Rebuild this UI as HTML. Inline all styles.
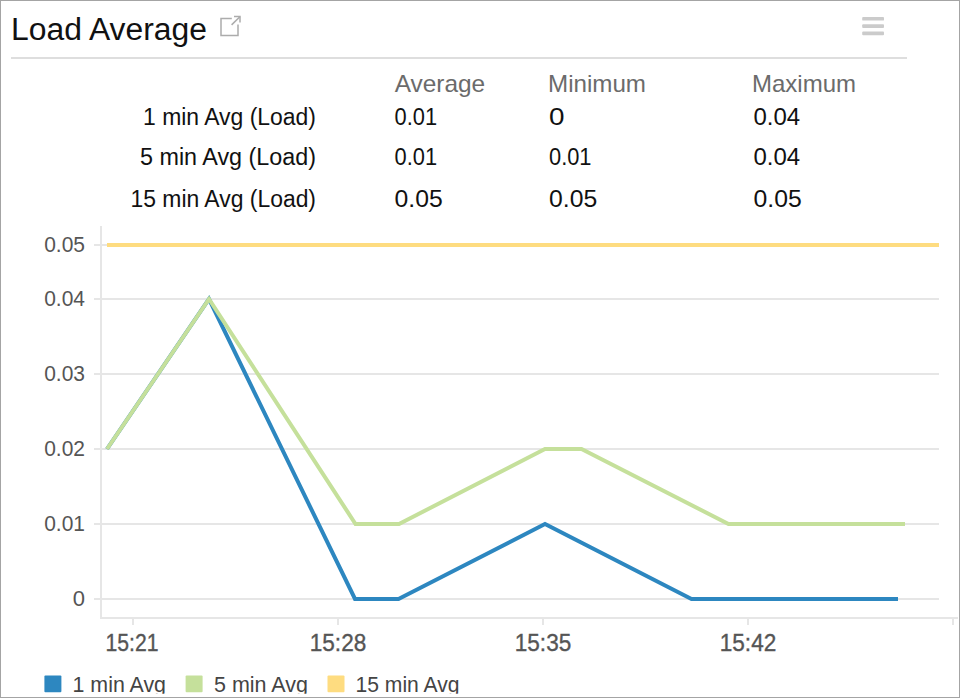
<!DOCTYPE html>
<html>
<head>
<meta charset="utf-8">
<style>
html,body{margin:0;padding:0;background:#fff;}
body{width:960px;height:698px;overflow:hidden;font-family:"Liberation Sans",sans-serif;}
svg{display:block;}
text{font-family:"Liberation Sans",sans-serif;}
</style>
</head>
<body>
<svg width="960" height="698" viewBox="0 0 960 698">
  <!-- frame -->
  <rect x="0.5" y="0.5" width="959" height="697" fill="#fff" stroke="#a4a4a4" stroke-width="1"/>

  <!-- title -->
  <text x="11" y="40" font-size="31" fill="#111" textLength="196" lengthAdjust="spacingAndGlyphs">Load Average</text>
  <!-- external link icon -->
  <g fill="none" stroke="#acacac" stroke-width="1.5">
    <path d="M231.8 18.6H221V35.4H238V24.4"/>
    <path d="M231.6 24.9L239.9 16.7"/>
    <path d="M234 16.6H240V22.4"/>
  </g>
  <!-- hamburger -->
  <g fill="#cbcbcb">
    <rect x="862.2" y="17" width="21.8" height="3.6" rx="0.9"/>
    <rect x="862.2" y="24.3" width="21.8" height="3.6" rx="0.9"/>
    <rect x="862.2" y="31.6" width="21.8" height="3.6" rx="0.9"/>
  </g>
  <!-- separator -->
  <rect x="11" y="57" width="896" height="2" fill="#dedede"/>

  <!-- table -->
  <g font-size="24" fill="#6b6b6b">
    <text x="394.7" y="91.5" textLength="90.5" lengthAdjust="spacingAndGlyphs">Average</text>
    <text x="548" y="91.5" textLength="98" lengthAdjust="spacingAndGlyphs">Minimum</text>
    <text x="752" y="91.5">Maximum</text>
  </g>
  <g font-size="23" fill="#111" text-anchor="end">
    <text x="316" y="124.8" textLength="173" lengthAdjust="spacingAndGlyphs">1 min Avg (Load)</text>
    <text x="316" y="165" textLength="176" lengthAdjust="spacingAndGlyphs">5 min Avg (Load)</text>
    <text x="316" y="206.5" textLength="185.5" lengthAdjust="spacingAndGlyphs">15 min Avg (Load)</text>
  </g>
  <g font-size="24" fill="#111">
    <text x="394.6" y="124.8" textLength="42.5" lengthAdjust="spacingAndGlyphs">0.01</text>
    <text x="549" y="124.8" textLength="15.5" lengthAdjust="spacingAndGlyphs">0</text>
    <text x="753.5" y="124.8">0.04</text>
    <text x="394.6" y="165" textLength="42.5" lengthAdjust="spacingAndGlyphs">0.01</text>
    <text x="549" y="165" textLength="42.5" lengthAdjust="spacingAndGlyphs">0.01</text>
    <text x="753.5" y="165">0.04</text>
    <text x="394.6" y="206.5" textLength="48.2" lengthAdjust="spacingAndGlyphs">0.05</text>
    <text x="549" y="206.5" textLength="48.2" lengthAdjust="spacingAndGlyphs">0.05</text>
    <text x="753.5" y="206.5" textLength="48.2" lengthAdjust="spacingAndGlyphs">0.05</text>
  </g>

  <!-- grid -->
  <g stroke="#e6e6e6" stroke-width="2" fill="none">
    <path d="M94 245H939M94 299H939M94 374H939M94 449H939M94 524H939M94 599H939"/>
    <path d="M101 226V619"/>
    <path d="M100 618H958"/>
    <path d="M133 619V625M338 619V625M543 619V625M748 619V625M953 619V625"/>
  </g>

  <!-- y labels -->
  <g font-size="22" fill="#555" text-anchor="end">
    <text x="85" y="252" textLength="40.8" lengthAdjust="spacingAndGlyphs">0.05</text>
    <text x="85" y="306" textLength="40.8" lengthAdjust="spacingAndGlyphs">0.04</text>
    <text x="85" y="381" textLength="40.8" lengthAdjust="spacingAndGlyphs">0.03</text>
    <text x="85" y="456" textLength="40.8" lengthAdjust="spacingAndGlyphs">0.02</text>
    <text x="85" y="531" textLength="40.8" lengthAdjust="spacingAndGlyphs">0.01</text>
    <text x="85" y="606">0</text>
  </g>
  <!-- x labels -->
  <g font-size="23.2" fill="#555" stroke="#555" stroke-width="0.35" text-anchor="middle">
    <text x="132" y="651" textLength="53" lengthAdjust="spacingAndGlyphs">15:21</text>
    <text x="338" y="651" textLength="56.5" lengthAdjust="spacingAndGlyphs">15:28</text>
    <text x="543" y="651" textLength="56.5" lengthAdjust="spacingAndGlyphs">15:35</text>
    <text x="748" y="651" textLength="56.5" lengthAdjust="spacingAndGlyphs">15:42</text>
  </g>

  <!-- series -->
  <g fill="none" stroke-width="4">
    <path stroke="#2d87c0" d="M107 449L209 299L355 599L398.5 599L545 524L691.5 599L898 599"/>
    <path stroke="#c5e09b" d="M107 449L209 299L355.5 524L399 524L545 449L581.5 449L728.5 524L905 524"/>
    <path stroke="#fedc80" d="M107 245L939 245"/>
  </g>

  <!-- legend -->
  <rect x="44.4" y="675.5" width="17" height="16.7" rx="1" fill="#2d87c0"/>
  <rect x="185.6" y="675.5" width="17" height="16.7" rx="1" fill="#c5e09b"/>
  <rect x="327.5" y="675.5" width="17" height="16.7" rx="1" fill="#fedc80"/>
  <defs><clipPath id="lc"><rect x="0" y="600" width="960" height="93.8"/></clipPath></defs>
  <g font-size="22" fill="#444" clip-path="url(#lc)">
    <text x="72.5" y="692" textLength="93.5" lengthAdjust="spacingAndGlyphs">1 min Avg</text>
    <text x="214" y="692" textLength="94" lengthAdjust="spacingAndGlyphs">5 min Avg</text>
    <text x="355.5" y="692" textLength="104" lengthAdjust="spacingAndGlyphs">15 min Avg</text>
  </g>
  <!-- bottom border on top of legend text -->
  <rect x="0" y="697" width="960" height="1" fill="#a4a4a4"/>
</svg>
</body>
</html>
